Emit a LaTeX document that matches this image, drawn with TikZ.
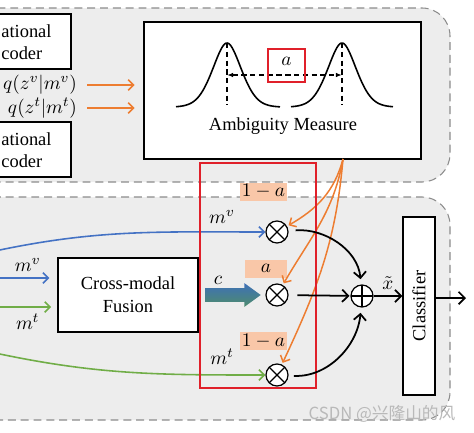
\documentclass[tikz,border=0pt]{standalone}
\usepackage{amsmath}
\usepackage{fontspec}
\setmainfont{Liberation Serif}
\newfontfamily\cjkfont{Noto Sans CJK SC}
\usepackage{tikz}
\usetikzlibrary{shapes,arrows.meta,positioning,calc}
\definecolor{panelgray}{RGB}{237,237,237}
\definecolor{dashgray}{RGB}{140,140,140}
\definecolor{measred}{RGB}{224,32,42}
\definecolor{flowor}{RGB}{237,125,49}
\definecolor{peach}{RGB}{249,199,168}
\definecolor{viblue}{RGB}{68,114,196}
\definecolor{txgreen}{RGB}{112,173,71}
\definecolor{cblue}{RGB}{62,112,184}
\definecolor{cteal}{RGB}{78,140,108}
\tikzstyle{panel} = [draw=dashgray, dash pattern=on 4.5pt off 2.8pt, fill=panelgray, rounded corners=0.56cm, line width=0.6pt]
\tikzstyle{process} = [rectangle, draw=black, fill=white, line width=0.8pt, text centered, align=center]
\tikzstyle{weight} = [rectangle, fill=peach, minimum width=0.94cm, minimum height=0.36cm, inner sep=0pt]
\tikzstyle{lbl} = [font=\fontsize{11}{13}\selectfont]
\tikzstyle{cut} = [anchor=base west, inner sep=0pt]
\tikzstyle{mult} = [circle, draw=black, line width=0.7pt, fill=white, minimum size=0.44cm, inner sep=0pt,
  path picture={\draw[line width=0.7pt] (path picture bounding box.north west) -- (path picture bounding box.south east)
    (path picture bounding box.north east) -- (path picture bounding box.south west);}]
\tikzstyle{plus} = [circle, draw=black, line width=0.7pt, fill=white, minimum size=0.44cm, inner sep=0pt,
  path picture={\draw[line width=0.7pt] (path picture bounding box.north) -- (path picture bounding box.south)
    (path picture bounding box.west) -- (path picture bounding box.east);}]
\tikzstyle{arrow} = [line width=1pt, -{Straight Barb[length=3.5pt, width=7pt]}]
\tikzstyle{orarrow} = [draw=flowor, line width=0.85pt, -{Straight Barb[length=3pt, width=6pt]}]
\tikzstyle{blarrow} = [draw=viblue, line width=0.9pt, -{Straight Barb[length=3pt, width=6pt]}]
\tikzstyle{grarrow} = [draw=txgreen, line width=0.9pt, -{Straight Barb[length=3pt, width=6pt]}]
\tikzstyle{bell} = [line width=0.9pt]

\begin{document}
\begin{tikzpicture}[x=0.02cm, y=-0.02cm, font=\fontsize{10.5}{13}\selectfont]
        \useasboundingbox (0,0) rectangle (474,433);
        \clip (0,0) rectangle (474,433);

        % Dashed panels
        \draw [panel] (-40,8) rectangle (450,182);
        \draw [panel] (-40,197) rectangle (450,420);

        % Variational encoders (cut by the left border)
        \node (enc_v) [process, minimum width=2.56cm, minimum height=1.1cm] at (7,41.5) {};
        \node (enc_t) [process, minimum width=2.56cm, minimum height=1.1cm] at (7,149.5) {};
        \node (enc_v_top) [cut] at (1,37) {ational};
        \node (enc_v_bot) [cut] at (1,59) {coder};
        \node (enc_t_top) [cut] at (1,145) {ational};
        \node (enc_t_bot) [cut] at (1,167) {coder};
        \node (q_v) [lbl, anchor=east] at (83,85) {$q(z^v|m^v)$};
        \node (q_t) [lbl, anchor=east] at (83,108) {$q(z^t|m^t)$};

        % Ambiguity measure
        \node (measure) [process, minimum width=5.54cm, minimum height=2.74cm] at (282.5,90.5) {};
        \node (measure_lbl) at (283,126) {Ambiguity Measure};
        \draw [orarrow, shorten <=2.3pt, shorten >=5pt] (q_v.east) -- (q_v.east -| measure.west);
        \draw [orarrow, shorten <=2.3pt, shorten >=5pt] (q_t.east) -- (q_t.east -| measure.west);

        \coordinate (peak_v) at (227,43);
        \coordinate (foot_v) at (227,105);
        \coordinate (peak_t) at (342,43);
        \coordinate (foot_t) at (342,105);
        \coordinate (gap_v) at (227,75);
        \coordinate (gap_t) at (342,75);
        \draw [bell] plot[domain=176:280, samples=90, smooth]
          (\x, {108-65*(0.75*exp(-(\x-227)^2/450)+0.25/(1+((\x-227)/14)^2))});
        \draw [bell] plot[domain=291:393, samples=90, smooth]
          (\x, {108-65*(0.75*exp(-(\x-342)^2/450)+0.25/(1+((\x-342)/14)^2))});
        \draw [dash pattern=on 3pt off 2pt, line width=0.7pt] (peak_v) -- (foot_v);
        \draw [dash pattern=on 3pt off 2pt, line width=0.7pt] (peak_t) -- (foot_t);
        \draw [dash pattern=on 3pt off 2pt, line width=0.7pt, {Latex[length=3.5pt]}-{Latex[length=3.5pt]}] (gap_v) -- (gap_t);
        \node (a_box) [draw=measred, line width=1.2pt, minimum width=0.74cm, minimum height=0.66cm] at (286.5,65.5) {};
        \node (a_lbl) [lbl] at (286.5,61) {$a$};

        % Cross-modal fusion
        \node (fusion) [process, minimum width=2.8cm, minimum height=1.48cm] at (128,295) {Cross-modal\\Fusion};
        \coordinate (v_in) at (-2,278);
        \coordinate (t_in) at (-2,307);
        \draw [blarrow, shorten >=4.5pt] (v_in) -- (v_in -| fusion.west) node (mv_lbl) [lbl, midway, above] {$m^v$};
        \draw [grarrow, shorten >=3.5pt] (t_in) -- (t_in -| fusion.west) node (mt_lbl) [lbl, midway, below] {$m^t$};

        % Gating
        \node (mul_v) [mult] at (277,232) {};
        \node (mul_c) [mult] at (277,295) {};
        \node (mul_t) [mult] at (277,375) {};
        \node (add) [plus] at (362,296) {};
        \node (w_v) [weight] at (263.5,191.5) {$1-a$};
        \node (w_c) [weight, minimum width=0.84cm] at (266,268.5) {$a$};
        \node (w_t) [weight] at (263.5,341) {$1-a$};

        \coordinate (v_far) at (-5,251);
        \coordinate (t_far) at (-5,353);
        \draw [blarrow] (v_far) to[out=12, in=180] (mul_v);
        \draw [grarrow] (t_far) to[out=-12, in=180] (mul_t);
        \node (mv_gate) [lbl] at (222,217) {$m^v$};
        \node (mt_gate) [lbl] at (222,357) {$m^t$};

        \node (c_arrow) [single arrow, top color=cblue, bottom color=cteal, draw=none, minimum width=0.46cm,
          minimum height=1.1cm, single arrow head extend=0.1cm, single arrow tip angle=72,
          inner xsep=0pt, inner ysep=0.13cm] at (228.5,295) {};
        \node (c_lbl) [lbl] at (218,280) {$c$};

        \coordinate (fan) at (343,159);
        \draw [orarrow, shorten >=1pt] (fan) to[out=-105, in=30] (mul_v);
        \draw [orarrow, shorten >=1pt] (fan) to[out=-100, in=60] (mul_c);
        \draw [orarrow, shorten >=1pt] (fan) to[out=-95, in=65] (mul_t);

        \node (gate) [draw=measred, line width=1.2pt, minimum width=2.32cm, minimum height=4.5cm] at (258,275.5) {};

        % Weighted sum and classifier
        \draw [arrow, shorten <=4pt, shorten >=3pt] (mul_v) to[out=5, in=95] (add);
        \draw [arrow, shorten <=5pt, shorten >=0.5pt] (mul_c) -- (add);
        \draw [arrow, shorten <=3pt, shorten >=3pt] (mul_t) to[out=-3, in=-95] (add);
        \node (clf) [process, rotate=90, minimum width=3.56cm, minimum height=0.64cm] at (419,306) {Classifier};
        \coordinate (out) at (466,298);
        \draw [arrow] (add) -- (add -| clf.north) node (x_lbl) [lbl, midway, above] {$\tilde{x}$};
        \draw [arrow] (clf.south |- out) -- (out);

        \node (mark) [text=gray!55, font=\cjkfont\fontsize{9.5}{10}\selectfont] at (382,414) {CSDN @兴隆山的风};
    \end{tikzpicture}
\end{document}
